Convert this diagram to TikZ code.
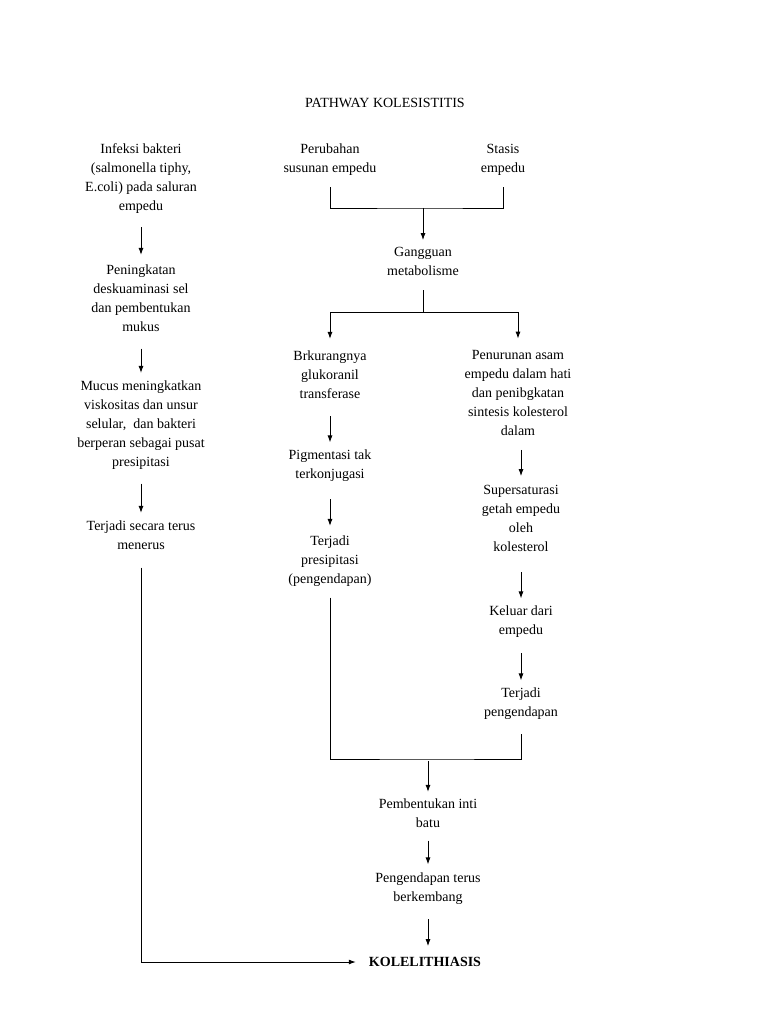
\documentclass[tikz,border=0pt]{standalone}
\usepackage{fontspec}
\setmainfont{Liberation Serif}
\usetikzlibrary{arrows.meta}
\begin{document}
\begin{tikzpicture}[x=1pt,y=-1pt,
  txt/.style={align=center,inner sep=0pt,font=\fontsize{14}{19}\selectfont},
  arr/.style={-{Latex[length=7pt,width=5pt]},line width=0.9pt},
  ln/.style={line width=0.9pt}]
\useasboundingbox (0,0) rectangle (768,1024);
\fill[white] (0,0) rectangle (768,1024);
% title
\node[txt] (title) at (385,103) {PATHWAY KOLESISTITIS};
% left column
\node[txt] (inf) at (141,179) {Infeksi bakteri\\(salmonella tiphy,\\E.coli) pada saluran\\empedu};
\node[txt] (pen) at (141,298) {Peningkatan\\deskuaminasi sel\\dan pembentukan\\mukus};
\node[txt] (muc) at (141,425) {Mucus meningkatkan\\viskositas dan unsur\\selular,\ \ dan bakteri\\berperan sebagai pusat\\presipitasi};
\node[txt] (ter1) at (141,535) {Terjadi secara terus\\menerus};
% top middle
\node[txt] (per) at (330,160) {Perubahan\\susunan empedu};
\node[txt] (sta) at (503,160) {Stasis\\empedu};
\node[txt] (gan) at (423,261) {Gangguan\\metabolisme};
% middle column
\node[txt] (brk) at (330,375) {Brkurangnya\\glukoranil\\transferase};
\node[txt] (pig) at (330,466) {Pigmentasi tak\\terkonjugasi};
\node[txt] (tpr) at (330,561) {Terjadi\\presipitasi\\(pengendapan)};
% right column
\node[txt] (pnr) at (518,393) {Penurunan asam\\empedu dalam hati\\dan penibgkatan\\sintesis kolesterol\\dalam};
\node[txt] (sup) at (521,518) {Supersaturasi\\getah empedu\\oleh\\kolesterol};
\node[txt] (kel) at (521,622) {Keluar dari\\empedu};
\node[txt] (tpg) at (521,704) {Terjadi\\pengendapan};
% bottom
\node[txt] (pmb) at (428,813) {Pembentukan inti\\batu};
\node[txt] (pgd) at (428,889) {Pengendapan terus\\berkembang};
\node[txt,font=\fontsize{14}{19}\selectfont\bfseries] (kol) at (425,962) {KOLELITHIASIS};
% junctions
\coordinate (j1) at (423,208);
\coordinate (j2) at (423,312);
\coordinate (j3) at (428,759);
% left arrows
\draw[arr,shorten <=13pt,shorten >=9.5pt] (inf) -- (pen);
\draw[arr,shorten <=17pt,shorten >=7.5pt] (pen) -- (muc);
\draw[arr,shorten <=14pt,shorten >=7.5pt] (muc) -- (ter1);
\draw[arr,shorten <=18pt,shorten >=13pt] (ter1) |- (kol);
% top join
\draw[ln,shorten <=11pt,shorten >=11pt] (per) |- (j1) -| (sta);
\draw[arr,shorten >=6.5pt] (j1) -- (gan);
\draw[ln,shorten <=15pt] (gan) -- (j2);
\draw[arr,shorten >=12pt] (j2) -| (brk);
\draw[arr,shorten >=11.5pt] (j2) -| (pnr);
% middle arrows
\draw[arr,shorten <=17pt,shorten >=7.5pt] (brk) -- (pig);
\draw[arr,shorten <=17pt,shorten >=9.5pt] (pig) -- (tpr);
% right arrows
\draw[arr,shorten <=14pt,shorten >=8.5pt] (pnr.south -| sup) -- (sup);
\draw[arr,shorten <=21pt,shorten >=7.5pt] (sup) -- (kel);
\draw[arr,shorten <=15pt,shorten >=7.5pt] (kel) -- (tpg);
% bottom join
\draw[ln,shorten <=11pt,shorten >=14pt] (tpr) |- (j3) -| (tpg);
\draw[arr,shorten <=2pt,shorten >=6.5pt] (j3) -- (pmb);
\draw[arr,shorten <=13pt,shorten >=8.5pt] (pmb) -- (pgd);
\draw[arr,shorten <=14pt,shorten >=11pt] (pgd) -- (kol.north -| pgd);
\end{tikzpicture}
\end{document}
